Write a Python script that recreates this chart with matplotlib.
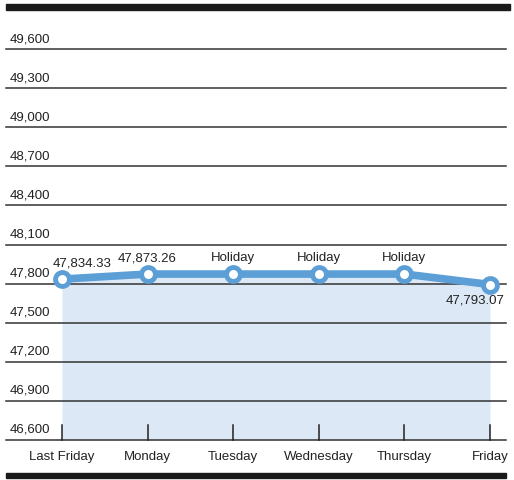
import matplotlib
matplotlib.use("Agg")
import matplotlib.pyplot as plt
from matplotlib.patches import Rectangle

days = ["Last Friday", "Monday", "Tuesday", "Wednesday", "Thursday", "Friday"]
values = [47834.33, 47873.26, 47873.26, 47873.26, 47873.26, 47793.07]
point_labels = ["47,834.33", "47,873.26", "Holiday", "Holiday", "Holiday", "47,793.07"]
yticks = [46600, 46900, 47200, 47500, 47800, 48100, 48400, 48700, 49000, 49300, 49600]

plt.rcParams['font.family'] = ['Liberation Sans', 'DejaVu Sans']

W, H = 514, 480
fig = plt.figure(figsize=(W/100, H/100), dpi=100)
ax = fig.add_axes([0, 0, 1, 1])
ax.set_axis_off()

xs = list(range(len(days)))
px_per_x = (490 - 62) / 5
ax.set_xlim(-62/px_per_x, 5 + (W-490)/px_per_x)
px_per_y = (440 - 49) / 3000
ax.set_ylim(46600 - (H-440)/px_per_y, 46600 + 440/px_per_y)

blue = '#5b9fd6'
fill = '#dce8f6'
fs = 9.5

ax.fill_between(xs, values, 46600, color=fill, zorder=1, linewidth=0)

for t in yticks:
    ax.axhline(t, xmin=6/W, xmax=506/W, color='#333333', linewidth=1.1, zorder=2)
    ax.text(10/px_per_x - 62/px_per_x, t + 4/px_per_y, f"{t:,}", fontsize=fs,
            ha='left', va='bottom', color='#222222', zorder=3)

# tick marks
for x in xs:
    ax.plot([x, x], [46600, 46600 + 15/px_per_y], color='#222222', linewidth=1.1, zorder=2)

ax.plot(xs, values, color=blue, linewidth=5.5, zorder=4, solid_capstyle='round',
        marker='o', markersize=10, markerfacecolor='white', markeredgecolor=blue,
        markeredgewidth=3.5)

# point labels (offsets in pixels)
offsets = [(20, 16), (0, 16), (0, 16), (0, 16), (0, 16), (-15, -16)]
for i, (lab, (dx, dy)) in enumerate(zip(point_labels, offsets)):
    ax.text(xs[i] + dx/px_per_x, values[i] + dy/px_per_y, lab, fontsize=fs, ha='center',
            va='center', color='#222222', zorder=5)

for x, d in zip(xs, days):
    ha = 'center'
    ax.text(x, 46600 - 17/px_per_y, d, fontsize=fs, ha=ha, va='center', color='#222222')

fig.patches.append(Rectangle((6/W, 1 - 10/H), 504/W, 6/H, transform=fig.transFigure,
                             color='#1a1a1a', zorder=10))
fig.patches.append(Rectangle((6/W, 1 - 478/H), 500/W, 5/H, transform=fig.transFigure,
                             color='#1a1a1a', zorder=10))

fig.savefig("out.png", dpi=100, facecolor='white')
